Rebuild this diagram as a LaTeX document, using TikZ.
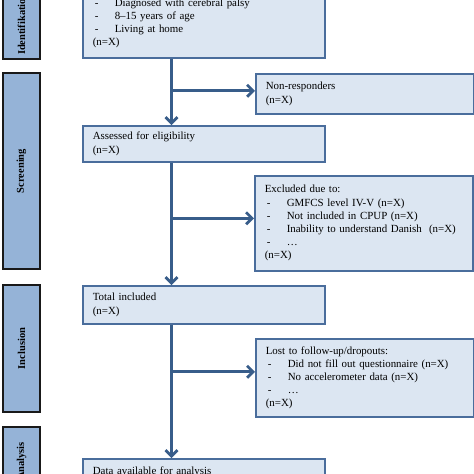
\documentclass[tikz,border=0pt]{standalone}
\usepackage{fontspec}
\setmainfont{Liberation Serif}
\usetikzlibrary{arrows.meta}
\definecolor{boxfill}{HTML}{DCE6F2}
\definecolor{boxline}{HTML}{4A6D9C}
\definecolor{arrowcol}{HTML}{385D8A}
\definecolor{sidefill}{HTML}{95B3D7}
\newcommand{\itm}[1]{\makebox[22pt][l]{\hspace{2pt}-}#1}
\begin{document}
\begin{tikzpicture}[x=1pt,y=-1pt,
  txt/.style={font=\fontsize{10.9}{13.2}\selectfont, text=black},
  mainbox/.style={txt, draw=boxline, fill=boxfill, line width=1.6pt, text width=222pt,
    inner xsep=10pt, align=left, minimum width=242pt},
  sidebox/.style={txt, draw=boxline, fill=boxfill, line width=1.6pt, text width=198pt,
    inner xsep=10pt, align=left, minimum width=218pt, anchor=north west},
  phase/.style={draw=black!90, fill=sidefill, line width=2pt, rotate=90,
    font=\fontsize{10.5}{12}\selectfont\bfseries, text=black},
  arr/.style={draw=arrowcol, line width=2.7pt, -{Straight Barb[length=6pt,width=12pt]}}]
\useasboundingbox (0,0) rectangle (474,474);
\clip (0,0) rectangle (474,474);
% phase labels
\node[phase, minimum width=70pt, minimum height=37pt] (pid) at (21.5,24) {Identifikation};
\node[phase, minimum width=196pt, minimum height=37pt] (psc) at (21.5,171) {Screening};
\node[phase, minimum width=127pt, minimum height=37pt] (pin) at (21.5,348.5) {Inclusion};
\node[phase, minimum width=68pt, minimum height=37pt] (pan) at (21.5,461) {Analysis};
% main boxes
\node[mainbox, anchor=south west, inner ysep=10pt] (top) at (82,59)
  {\itm{Diagnosed with cerebral palsy}\\ \itm{8–15 years of age}\\ \itm{Living at home}\\ (n=X)};
\node[mainbox, anchor=north west, minimum height=36pt] (assess) at (82,125)
  {Assessed for eligibility\\ (n=X)};
\node[mainbox, anchor=north west, minimum height=38pt] (total) at (82,285)
  {Total included\\ (n=X)};
\node[mainbox, anchor=north west, minimum height=40pt] (data) at (82,458)
  {Data available for analysis\\ (n=X)};
% side boxes
\node[sidebox, minimum height=40pt] (nonresp) at (255,73)
  {Non-responders\\ (n=X)};
\node[sidebox, minimum height=95pt] (excl) at (254,175)
  {Excluded due to:\\ \itm{GMFCS level IV-V (n=X)}\\ \itm{Not included in CPUP (n=X)}\\
   \itm{Inability to understand Danish\ \ (n=X)}\\ \itm{…}\\ (n=X)};
\node[sidebox, minimum height=78pt] (lost) at (255,338)
  {Lost to follow-up/dropouts:\\ \itm{Did not fill out questionnaire (n=X)}\\
   \itm{No accelerometer data (n=X)}\\ \itm{…}\\ (n=X)};
% connector anchor points
\coordinate (s1) at ([xshift=89.5pt]top.south west);
\coordinate (e1) at ([xshift=89.5pt]assess.north west);
\coordinate (s2) at ([xshift=89.5pt]assess.south west);
\coordinate (e2) at ([xshift=89.5pt]total.north west);
\coordinate (s3) at ([xshift=89.5pt]total.south west);
\coordinate (e3) at ([xshift=89.5pt]data.north west);
\coordinate (b1) at ([yshift=3pt]nonresp.west);
\coordinate (b2) at ([yshift=5pt]excl.west);
\coordinate (b3) at ([yshift=6pt]lost.west);
% connectors
\draw[arr] (s1) -- (e1);
\draw[arr] (s1 |- b1) -- (b1);
\draw[arr] (s2) -- (e2);
\draw[arr] (s2 |- b2) -- (b2);
\draw[arr] (s3) -- (e3);
\draw[arr] (s3 |- b3) -- (b3);
\end{tikzpicture}
\end{document}
